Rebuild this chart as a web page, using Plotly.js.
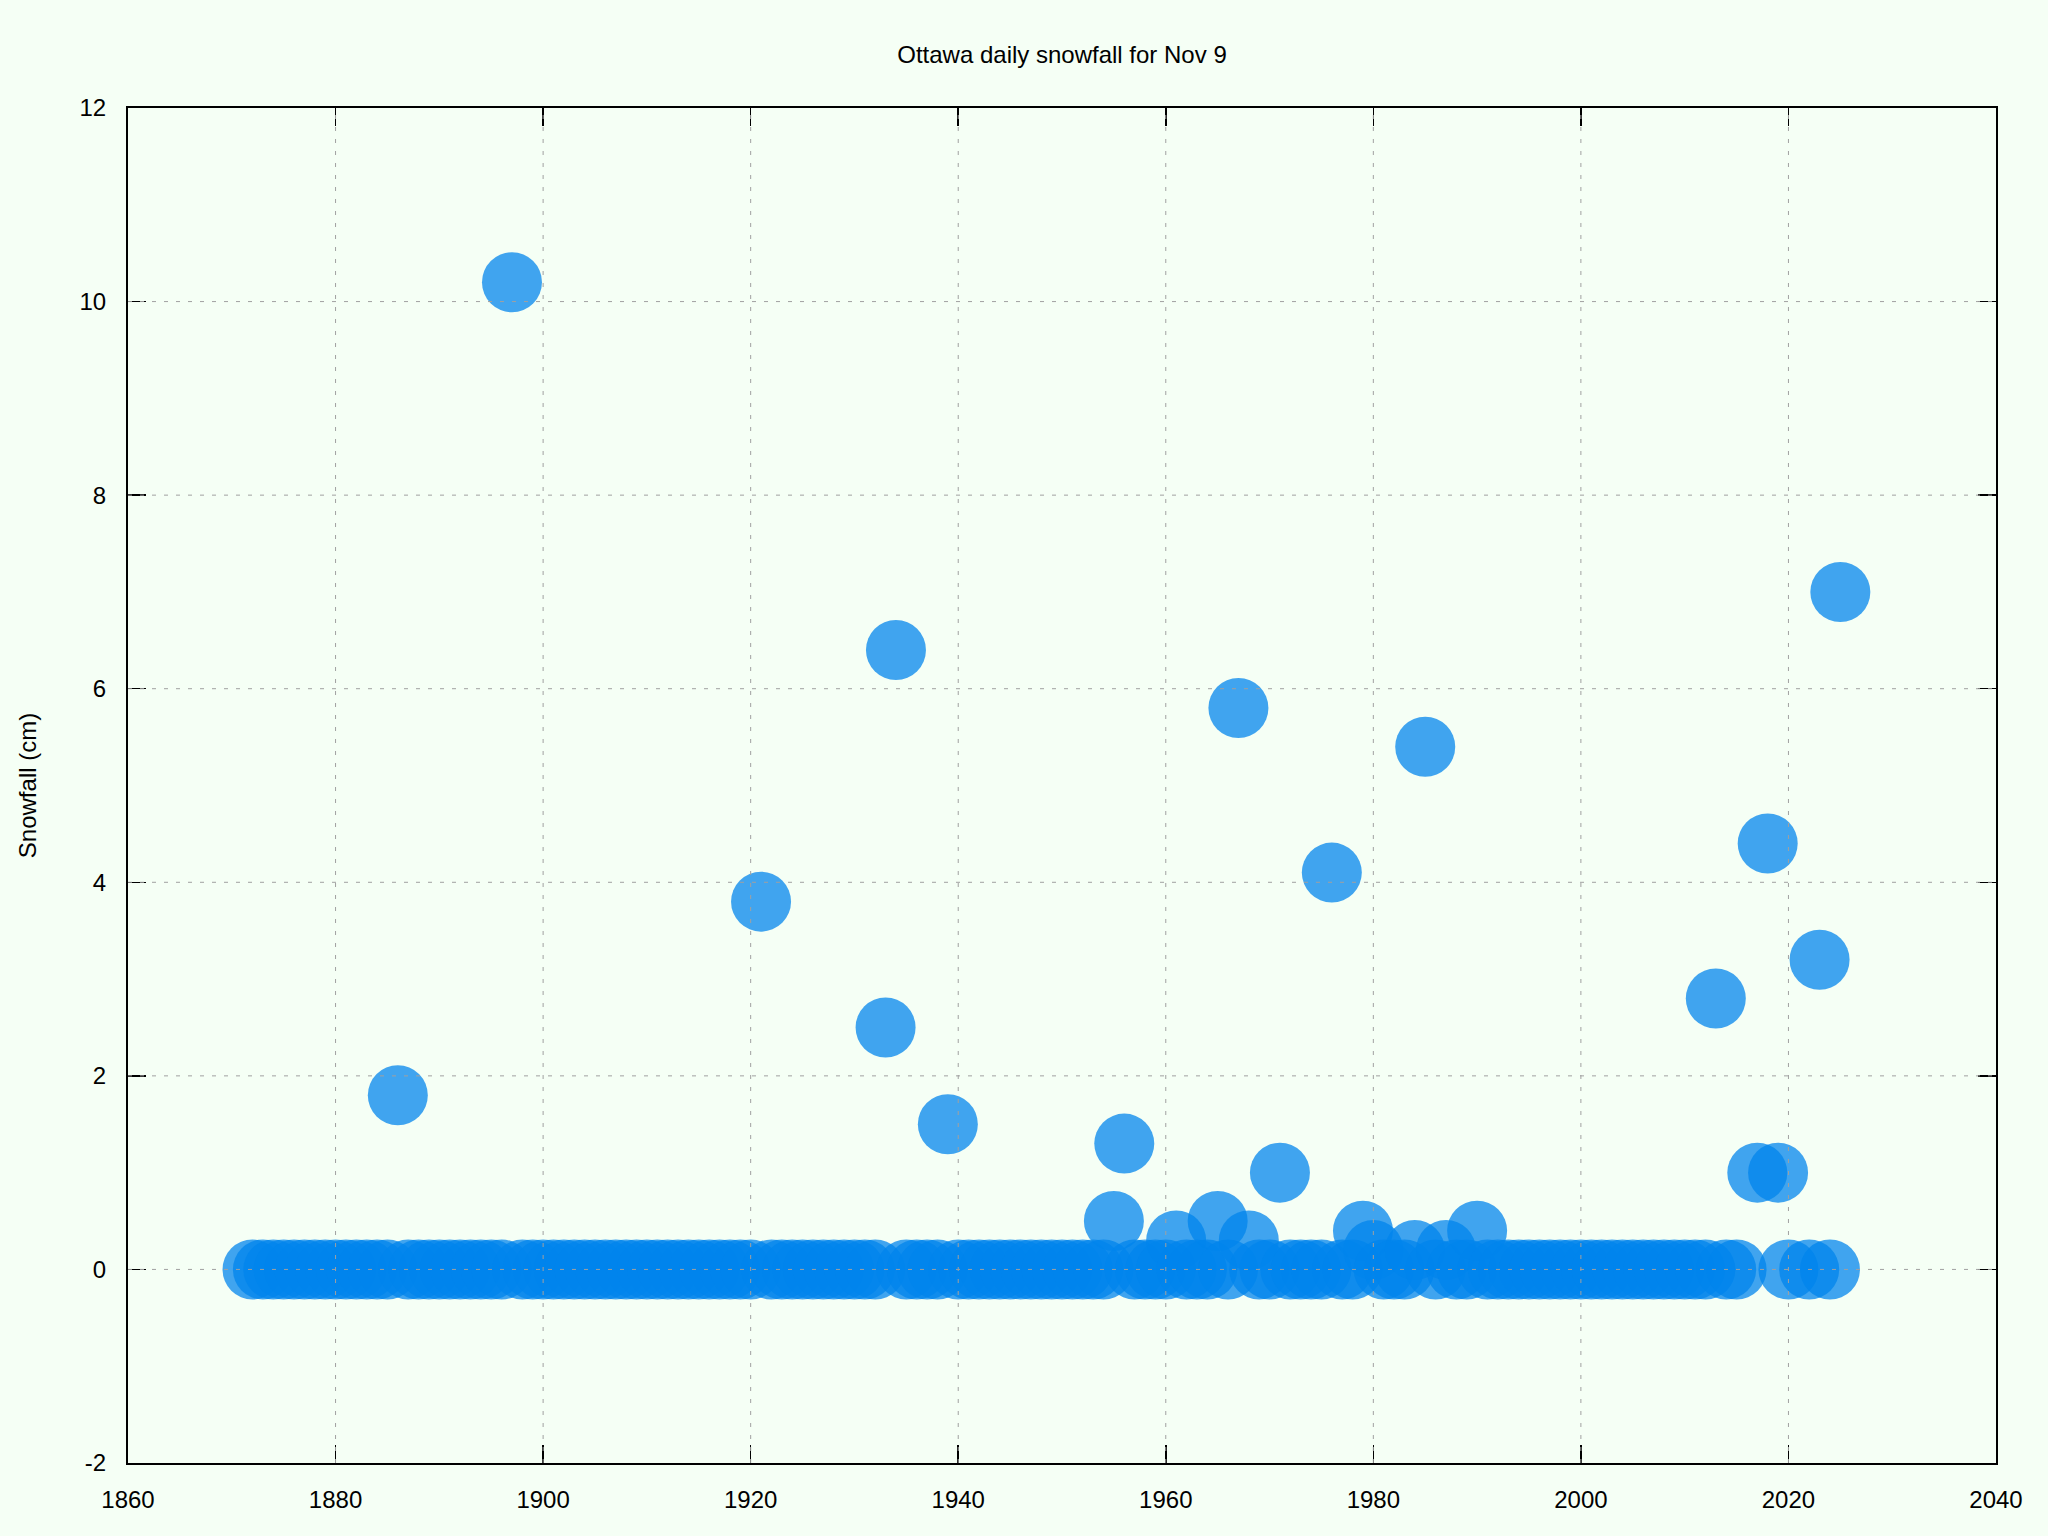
<!DOCTYPE html>
<html>
<head>
<meta charset="utf-8">
<script src="https://cdn.plot.ly/plotly-3.0.1.min.js"></script>
<style>
  html, body { margin: 0; padding: 0; background: #f5fff5; }
  #chart { width: 2048px; height: 1536px; }
</style>
</head>
<body>
<div id="chart"></div>
<script>
// Year of observation (Nov 9), 1872-2025
const years = [
  1872,1873,1874,1875,1876,1877,1878,1879,1880,1881,1882,1883,1884,1885,1886,1887,1888,1889,1890,1891,
  1892,1893,1894,1895,1896,1897,1898,1899,1900,1901,1902,1903,1904,1905,1906,1907,1908,1909,1910,1911,
  1912,1913,1914,1915,1916,1917,1918,1919,1920,1921,1922,1923,1924,1925,1926,1927,1928,1929,1930,1931,
  1932,1933,1934,1935,1936,1937,1938,1939,1940,1941,1942,1943,1944,1945,1946,1947,1948,1949,1950,1951,
  1952,1953,1954,1955,1956,1957,1958,1959,1960,1961,1962,1963,1964,1965,1966,1967,1968,1969,1970,1971,
  1972,1973,1974,1975,1976,1977,1978,1979,1980,1981,1982,1983,1984,1985,1986,1987,1988,1989,1990,1991,
  1992,1993,1994,1995,1996,1997,1998,1999,2000,2001,2002,2003,2004,2005,2006,2007,2008,2009,2010,2011,
  2012,2013,2014,2015,2016,2017,2018,2019,2020,2021,2022,2023,2024,2025
];
// Daily snowfall in cm (null = no record)
const snowfall = [
  0,0,0,0,0,0,0,0,0,0,0,0,0,0,1.8,0,0,0,0,0,
  0,0,0,0,0,10.2,0,0,0,0,0,0,0,0,0,0,0,0,0,0,
  0,0,0,0,0,0,0,0,0,3.8,0,0,0,0,0,0,0,0,0,0,
  0,2.5,6.4,0,0,0,0,1.5,0,0,0,0,0,0,0,0,0,0,0,0,
  0,0,0,0.5,1.3,0,0,0,0,0.3,0,0,0,0.5,0,5.8,0.3,0,0,1.0,
  0,0,0,0,4.1,0,0,0.4,0.2,0,0,0,0.2,5.4,0,0.2,0,0,0.4,0,
  0,0,0,0,0,0,0,0,0,0,0,0,0,0,0,0,0,0,0,0,
  0,2.8,0,0,null,1.0,4.4,1.0,0,null,0,3.2,0,7.0
];

const chartTitle = "Ottawa daily snowfall for Nov 9";
const yTitle = "Snowfall (cm)";
const xTicks = [1860, 1880, 1900, 1920, 1940, 1960, 1980, 2000, 2020, 2040];
const yTicks = [-2, 0, 2, 4, 6, 8, 10, 12];

const FONT = "Liberation Sans, Arial, Helvetica, sans-serif";
const FSIZE = 24;
const gridStyle = { color: "#a0a0a0", width: 1, dash: "4px,8px" };

// grid lines drawn above the markers (as in the reference)
const shapes = [];
xTicks.slice(1, -1).forEach(v => shapes.push({
  type: "line", xref: "x", yref: "paper", x0: v, x1: v, y0: 0, y1: 1,
  layer: "above", line: gridStyle
}));
yTicks.slice(1, -1).forEach(v => shapes.push({
  type: "line", xref: "paper", yref: "y", x0: 0, x1: 1, y0: v, y1: v,
  layer: "above", line: gridStyle
}));

const trace = {
  type: "scatter",
  mode: "markers",
  x: years,
  y: snowfall,
  marker: {
    size: 60,
    color: "rgb(0,132,236)",
    opacity: 0.74,
    line: { width: 0 }
  },
  hoverinfo: "x+y"
};

const axisCommon = {
  showline: true,
  linecolor: "#000000",
  linewidth: 2,
  mirror: "ticks",
  ticks: "inside",
  ticklen: 18,
  tickwidth: 1.5,
  tickcolor: "#000000",
  showgrid: false,
  zeroline: false,
  layer: "above traces",
  tickfont: { family: FONT, size: FSIZE, color: "#000000" }
};

const layout = {
  width: 2048,
  height: 1536,
  paper_bgcolor: "#f5fff5",
  plot_bgcolor: "#f5fff5",
  margin: { l: 128, r: 52, t: 108, b: 73, pad: 0 },
  showlegend: false,
  title: {
    text: chartTitle,
    font: { family: FONT, size: FSIZE, color: "#000000" },
    x: 0.5, xref: "paper", xanchor: "center",
    y: 1 - 55 / 1536, yref: "container", yanchor: "middle"
  },
  xaxis: Object.assign({}, axisCommon, {
    range: [1860, 2040],
    tickmode: "array",
    tickvals: xTicks,
    ticktext: xTicks.map(String),
    ticklabelstandoff: 14
  }),
  yaxis: Object.assign({}, axisCommon, {
    range: [-2, 12],
    tickmode: "array",
    tickvals: yTicks,
    ticktext: yTicks.map(String),
    ticklabelstandoff: 15,
    title: {
      text: yTitle,
      font: { family: FONT, size: FSIZE, color: "#000000" },
      standoff: 36
    }
  }),
  shapes: shapes
};

Plotly.newPlot("chart", [trace], layout, { displayModeBar: false, staticPlot: true });
</script>
</body>
</html>
